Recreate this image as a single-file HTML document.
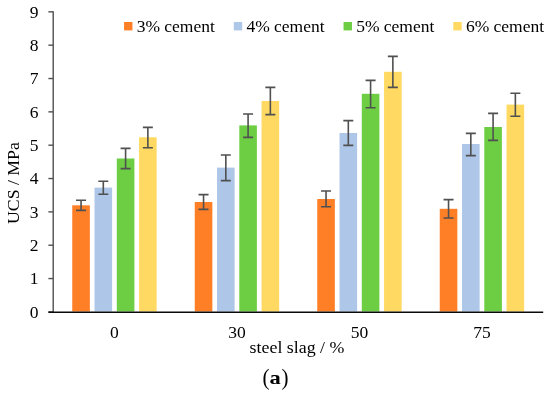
<!DOCTYPE html>
<html><head><meta charset="utf-8"><title>UCS chart</title>
<style>html,body{margin:0;padding:0;background:#fff}svg{display:block}</style>
</head><body>
<svg width="550" height="395" viewBox="0 0 550 395">
<rect width="550" height="395" fill="#fff"/>
<rect x="72.25" y="205.30" width="17.6" height="106.20" fill="#FF7F27"/>
<rect x="94.52" y="187.60" width="17.6" height="123.90" fill="#AEC7E8"/>
<rect x="116.79" y="158.50" width="17.6" height="153.00" fill="#6DCE44"/>
<rect x="139.06" y="137.30" width="17.6" height="174.20" fill="#FFD961"/>
<rect x="194.75" y="202.00" width="17.6" height="109.50" fill="#FF7F27"/>
<rect x="217.02" y="167.60" width="17.6" height="143.90" fill="#AEC7E8"/>
<rect x="239.29" y="125.40" width="17.6" height="186.10" fill="#6DCE44"/>
<rect x="261.56" y="101.00" width="17.6" height="210.50" fill="#FFD961"/>
<rect x="317.25" y="199.00" width="17.6" height="112.50" fill="#FF7F27"/>
<rect x="339.52" y="133.00" width="17.6" height="178.50" fill="#AEC7E8"/>
<rect x="361.79" y="93.80" width="17.6" height="217.70" fill="#6DCE44"/>
<rect x="384.06" y="71.80" width="17.6" height="239.70" fill="#FFD961"/>
<rect x="439.75" y="208.80" width="17.6" height="102.70" fill="#FF7F27"/>
<rect x="462.02" y="144.00" width="17.6" height="167.50" fill="#AEC7E8"/>
<rect x="484.29" y="127.00" width="17.6" height="184.50" fill="#6DCE44"/>
<rect x="506.56" y="104.60" width="17.6" height="206.90" fill="#FFD961"/>
<path d="M76.05 200.30H86.05M76.05 210.40H86.05M81.05 200.30V210.40" stroke="#505050" stroke-width="1.6" fill="none"/>
<path d="M98.32 181.30H108.32M98.32 194.20H108.32M103.32 181.30V194.20" stroke="#505050" stroke-width="1.6" fill="none"/>
<path d="M120.59 148.40H130.59M120.59 168.60H130.59M125.59 148.40V168.60" stroke="#505050" stroke-width="1.6" fill="none"/>
<path d="M142.86 127.40H152.86M142.86 147.70H152.86M147.86 127.40V147.70" stroke="#505050" stroke-width="1.6" fill="none"/>
<path d="M198.55 194.60H208.55M198.55 209.40H208.55M203.55 194.60V209.40" stroke="#505050" stroke-width="1.6" fill="none"/>
<path d="M220.82 155.00H230.82M220.82 180.60H230.82M225.82 155.00V180.60" stroke="#505050" stroke-width="1.6" fill="none"/>
<path d="M243.09 114.00H253.09M243.09 137.40H253.09M248.09 114.00V137.40" stroke="#505050" stroke-width="1.6" fill="none"/>
<path d="M265.36 87.40H275.36M265.36 114.60H275.36M270.36 87.40V114.60" stroke="#505050" stroke-width="1.6" fill="none"/>
<path d="M321.05 191.00H331.05M321.05 206.80H331.05M326.05 191.00V206.80" stroke="#505050" stroke-width="1.6" fill="none"/>
<path d="M343.32 120.60H353.32M343.32 145.40H353.32M348.32 120.60V145.40" stroke="#505050" stroke-width="1.6" fill="none"/>
<path d="M365.59 80.40H375.59M365.59 107.80H375.59M370.59 80.40V107.80" stroke="#505050" stroke-width="1.6" fill="none"/>
<path d="M387.86 56.40H397.86M387.86 87.40H397.86M392.86 56.40V87.40" stroke="#505050" stroke-width="1.6" fill="none"/>
<path d="M443.55 199.60H453.55M443.55 218.00H453.55M448.55 199.60V218.00" stroke="#505050" stroke-width="1.6" fill="none"/>
<path d="M465.82 133.40H475.82M465.82 155.60H475.82M470.82 133.40V155.60" stroke="#505050" stroke-width="1.6" fill="none"/>
<path d="M488.09 113.40H498.09M488.09 140.40H498.09M493.09 113.40V140.40" stroke="#505050" stroke-width="1.6" fill="none"/>
<path d="M510.36 93.20H520.36M510.36 116.20H520.36M515.36 93.20V116.20" stroke="#505050" stroke-width="1.6" fill="none"/>
<path d="M53.2 11.24V311.9" stroke="#505050" stroke-width="1.4" fill="none"/>
<path d="M48.4 311.90H53.2" stroke="#505050" stroke-width="1.4" fill="none"/>
<path d="M48.4 278.56H53.2" stroke="#505050" stroke-width="1.4" fill="none"/>
<path d="M48.4 245.22H53.2" stroke="#505050" stroke-width="1.4" fill="none"/>
<path d="M48.4 211.88H53.2" stroke="#505050" stroke-width="1.4" fill="none"/>
<path d="M48.4 178.54H53.2" stroke="#505050" stroke-width="1.4" fill="none"/>
<path d="M48.4 145.20H53.2" stroke="#505050" stroke-width="1.4" fill="none"/>
<path d="M48.4 111.86H53.2" stroke="#505050" stroke-width="1.4" fill="none"/>
<path d="M48.4 78.52H53.2" stroke="#505050" stroke-width="1.4" fill="none"/>
<path d="M48.4 45.18H53.2" stroke="#505050" stroke-width="1.4" fill="none"/>
<path d="M48.4 11.84H53.2" stroke="#505050" stroke-width="1.4" fill="none"/>
<path d="M48.4 312.2H543.2" stroke="#0a0a0a" stroke-width="1.55" fill="none"/>
<g font-family="'Liberation Serif', serif" font-size="17.5" fill="#000">
<text x="38.4" y="317.70" text-anchor="end">0</text>
<text x="38.4" y="284.36" text-anchor="end">1</text>
<text x="38.4" y="251.02" text-anchor="end">2</text>
<text x="38.4" y="217.68" text-anchor="end">3</text>
<text x="38.4" y="184.34" text-anchor="end">4</text>
<text x="38.4" y="151.00" text-anchor="end">5</text>
<text x="38.4" y="117.66" text-anchor="end">6</text>
<text x="38.4" y="84.32" text-anchor="end">7</text>
<text x="38.4" y="50.98" text-anchor="end">8</text>
<text x="38.4" y="17.64" text-anchor="end">9</text>
<text x="114.45" y="338.4" text-anchor="middle">0</text>
<text x="236.95" y="338.4" text-anchor="middle">30</text>
<text x="359.45" y="338.4" text-anchor="middle">50</text>
<text x="481.95" y="338.4" text-anchor="middle">75</text>
<text x="249.6" y="352.6" textLength="94.8" lengthAdjust="spacingAndGlyphs">steel slag / %</text>
<text transform="translate(19.3 224) rotate(-90)" textLength="81.8" lengthAdjust="spacingAndGlyphs">UCS / MPa</text>
<rect x="124.05" y="22" width="8.4" height="8.4" fill="#FF7F27"/>
<text x="136.65" y="31.6" textLength="78.2" lengthAdjust="spacingAndGlyphs">3% cement</text>
<rect x="233.80" y="22" width="8.4" height="8.4" fill="#AEC7E8"/>
<text x="246.40" y="31.6" textLength="78.2" lengthAdjust="spacingAndGlyphs">4% cement</text>
<rect x="343.55" y="22" width="8.4" height="8.4" fill="#6DCE44"/>
<text x="356.15" y="31.6" textLength="78.2" lengthAdjust="spacingAndGlyphs">5% cement</text>
<rect x="453.30" y="22" width="8.4" height="8.4" fill="#FFD961"/>
<text x="465.90" y="31.6" textLength="78.2" lengthAdjust="spacingAndGlyphs">6% cement</text>
</g>
<g font-family="'Liberation Serif', serif" fill="#000">
<text transform="translate(262.5 384.6) scale(0.93 1)" font-size="22.6">(</text>
<text transform="translate(269.6 384.0) scale(1.1 0.95)" font-size="20.5" font-weight="bold">a</text>
<text transform="translate(281.5 384.6) scale(0.93 1)" font-size="22.6">)</text>
</g>
</svg>
</body></html>
